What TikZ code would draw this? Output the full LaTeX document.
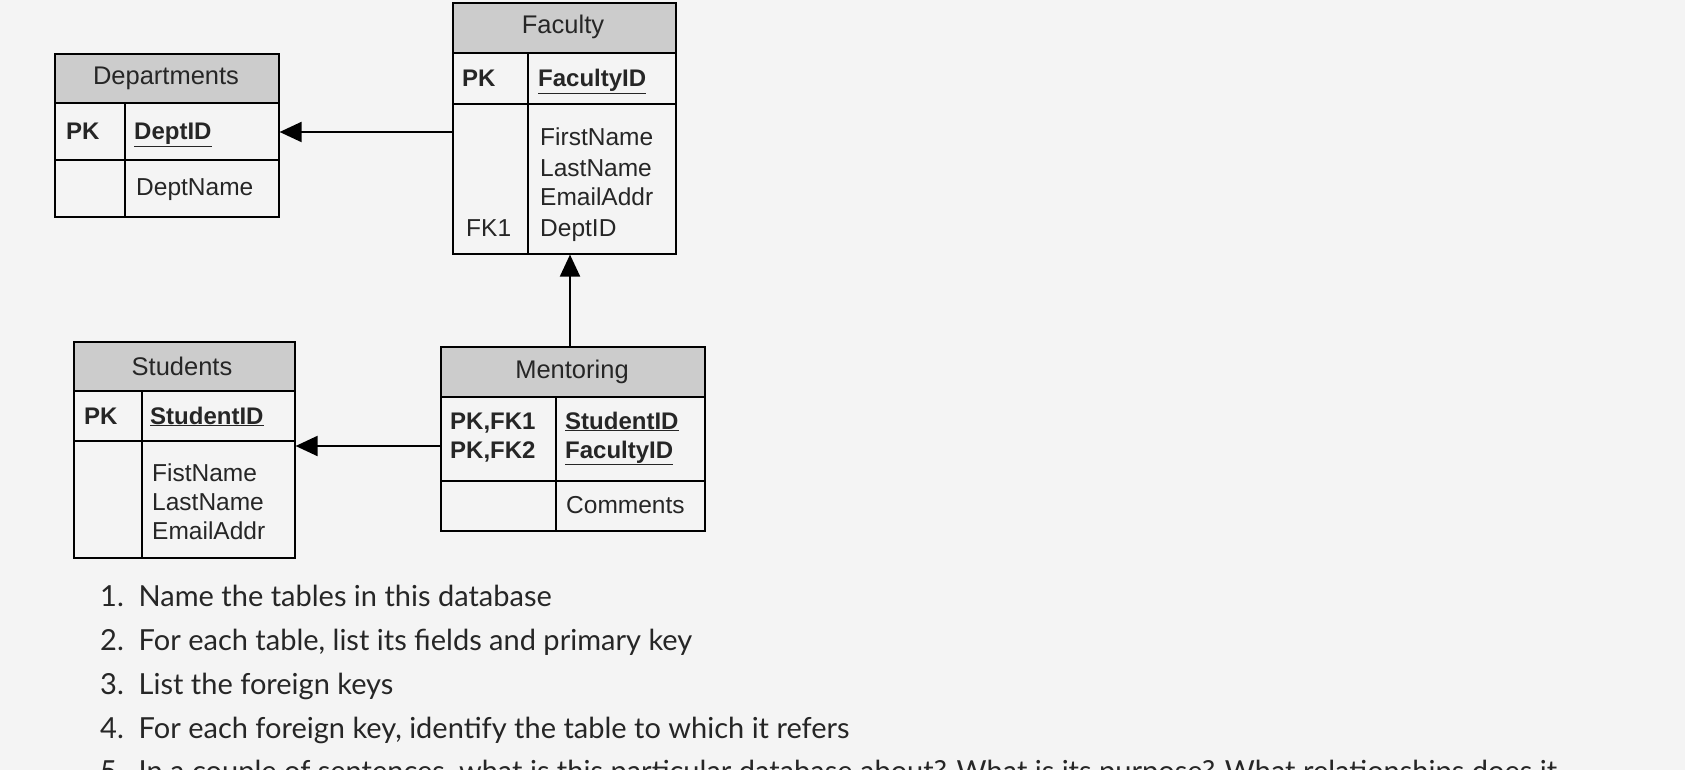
\documentclass[tikz,border=0pt]{standalone}
\usepackage{fontspec}
\setmainfont{Liberation Sans}
\newfontfamily\latofont{Lato}
\usetikzlibrary{arrows.meta}
\tikzset{
  tbl/.style={draw=black, line width=1.6pt, anchor=north west, inner sep=0pt},
  hdr/.style={fill=gray!40},
  ttl/.style={font=\fontsize{25.5}{28}\selectfont, text=black!85},
  fld/.style={font=\fontsize{24.5}{28}\selectfont, anchor=base west, inner sep=0pt, text=black!85},
  key/.style={fld, font=\fontsize{24}{28}\selectfont\bfseries},
  rel/.style={line width=2pt, -{Triangle[length=22pt,width=20pt]}},
  item/.style={font=\latofont\fontsize{29}{32}\selectfont, anchor=base west, inner sep=0pt, text=black!85}
}
\begin{document}
\begin{tikzpicture}[x=1pt,y=1pt]
\useasboundingbox (0,0) rectangle (1685,-770);
\fill[gray!9] (0,0) rectangle (1685,-770);
% Departments
\fill[hdr] (54,-53) rectangle (278,-103);
\node[tbl, minimum width=224pt, minimum height=163pt] (dept) at (54,-53) {};
\draw[line width=1.4pt] (54,-103) -- (278,-103) (54,-160) -- (278,-160) (125,-103) -- (125,-216);
\node[ttl] (deptt) at (166,-78) {Departments};
\node[key] (dpk) at (66,-140) {PK};
\node[key] (did) at (134,-140) {\underline{DeptID}};
\node[fld] (dnm) at (136,-196) {DeptName};
% Faculty
\fill[hdr] (452,-2) rectangle (675,-53);
\node[tbl, minimum width=223pt, minimum height=251pt] (fac) at (452,-2) {};
\draw[line width=1.4pt] (452,-53) -- (675,-53) (452,-104) -- (675,-104) (528,-53) -- (528,-253);
\node[ttl] (fact) at (563,-27) {Faculty};
\node[key] (fpk) at (462,-87) {PK};
\node[key] (fid) at (538,-87) {\underline{FacultyID}};
\node[fld] (ff1) at (540,-146) {FirstName};
\node[fld] (ff2) at (540,-176) {LastName};
\node[fld] (ff3) at (540,-205) {EmailAddr};
\node[fld] (ff4) at (540,-236) {DeptID};
\node[fld] (ffk) at (466,-236) {FK1};
% Students
\fill[hdr] (73,-341) rectangle (294,-391);
\node[tbl, minimum width=221pt, minimum height=216pt] (stu) at (73,-341) {};
\draw[line width=1.4pt] (73,-391) -- (294,-391) (73,-441) -- (294,-441) (142,-391) -- (142,-557);
\node[ttl] (stut) at (182,-366) {Students};
\node[key] (spk) at (84,-424) {PK};
\node[key] (sid) at (150,-424) {\underline{StudentID}};
\node[fld] (sf1) at (152,-481) {FistName};
\node[fld] (sf2) at (152,-510) {LastName};
\node[fld] (sf3) at (152,-539) {EmailAddr};
% Mentoring
\fill[hdr] (440,-346) rectangle (704,-397);
\node[tbl, minimum width=264pt, minimum height=184pt] (men) at (440,-346) {};
\draw[line width=1.4pt] (440,-397) -- (704,-397) (440,-481) -- (704,-481) (556,-397) -- (556,-530);
\node[ttl] (ment) at (572,-372) {Mentoring};
\node[key] (mk1) at (450,-429) {PK,FK1};
\node[key] (mk2) at (450,-458) {PK,FK2};
\node[key] (ms) at (565,-429) {\underline{StudentID}};
\node[key] (mf) at (565,-458) {\underline{FacultyID}};
\node[fld] (mc) at (566,-513) {Comments};
% relationships
\draw[rel] (fac.west |- 0,-132) -- (dept.east |- 0,-132);
\draw[rel] (men.north -| 570,0) -- (fac.south -| 570,0);
\draw[rel] (men.west |- 0,-446) -- (stu.east |- 0,-446);
% questions
\node[item] (q1) at (100,-606) {1.\ \ Name the tables in this database};
\node[item] (q2) at (100,-650) {2.\ \ For each table, list its fields and primary key};
\node[item] (q3) at (100,-694) {3.\ \ List the foreign keys};
\node[item] (q4) at (100,-738) {4.\ \ For each foreign key, identify the table to which it refers};
\node[item] (q5) at (100,-781) {5.\ \ In a couple of sentences, what is this particular database about? What is its purpose? What relationships does it};
\end{tikzpicture}
\end{document}
